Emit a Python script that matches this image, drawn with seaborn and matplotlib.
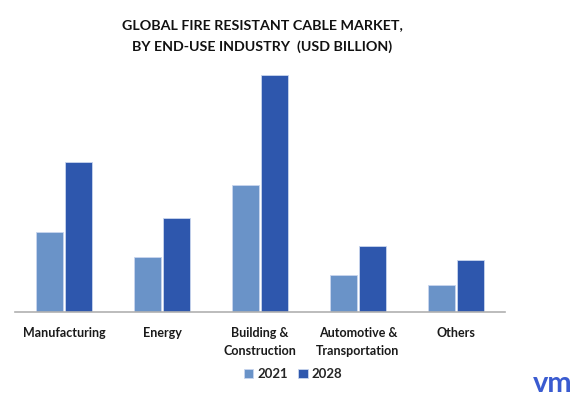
import matplotlib
matplotlib.use("Agg")
import matplotlib.pyplot as plt
import seaborn as sns
import pandas as pd

categories = ["Manufacturing", "Energy", "Building &\nConstruction",
              "Automotive &\nTransportation", "Others"]
years = ["2021", "2028"]
values_2021 = [0.80, 0.55, 1.27, 0.37, 0.27]
values_2028 = [1.50, 0.94, 2.37, 0.66, 0.52]
colors = ["#6a93c8", "#2e57ad"]

df = pd.DataFrame({
    "Industry": categories * 2,
    "Year": [years[0]] * len(categories) + [years[1]] * len(categories),
    "Value": values_2021 + values_2028,
})

sns.set_theme(style="white")
plt.rcParams['font.family'] = ['Lato', 'DejaVu Sans']

fig = plt.figure(figsize=(5.86, 3.96), dpi=100)
ax = fig.add_axes([15/586, 1 - 312/396, 490/586, 252/396])

sns.barplot(data=df, x="Industry", y="Value", hue="Year", palette=colors,
            saturation=1, width=0.6, gap=0.1, edgecolor="#c9d6ee", linewidth=0.6,
            ax=ax, legend=True)

ax.set_ylim(0, 2.52)
ax.set_xlim(-0.5, 4.5)
ax.set_xlabel("")
ax.set_ylabel("")
ax.set_yticks([])
for s in ["top", "right", "left"]:
    ax.spines[s].set_visible(False)
ax.spines["bottom"].set_color("#b0b0b0")
ax.spines["bottom"].set_linewidth(1.2)
ax.tick_params(axis="x", length=0, pad=11)
for lbl in ax.get_xticklabels():
    lbl.set_fontweight("bold")
    lbl.set_fontsize(9)
    lbl.set_color("#1a1a1a")
    lbl.set_linespacing(1.55)

leg = ax.legend(loc="center", bbox_to_anchor=(0.5, (396 - 374) / 396),
                bbox_transform=fig.transFigure, ncol=2, frameon=False,
                handlelength=0.7, handleheight=0.7, handletextpad=0.3,
                columnspacing=0.8, prop={"weight": "bold", "size": 9.5})

fig.text(262/586, 1 - 25/396, "GLOBAL FIRE RESISTANT CABLE MARKET,",
         ha="center", va="center", fontsize=10.3, fontweight="bold", color="#111111")
fig.text(262/586, 1 - 47/396, "BY END-USE INDUSTRY  (USD BILLION)",
         ha="center", va="center", fontsize=10.3, fontweight="bold", color="#111111")

fig.text(553/586, 1 - 384/396, "vm", ha="center", va="center",
         fontsize=21, fontweight="bold", color="#3a5bd0")

fig.savefig("out.png", dpi=100)
